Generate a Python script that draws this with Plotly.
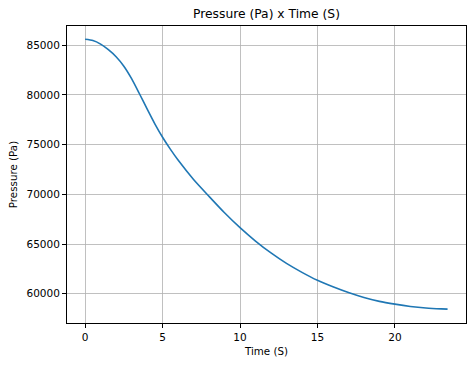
import plotly.graph_objects as go

time_s = [0, 0.5, 1, 1.5, 2, 2.5, 3, 3.5, 4, 4.5, 5, 5.5, 6, 7, 8, 9, 10, 11, 12, 13,
          14, 15, 16, 17, 18, 19, 20, 21, 22, 23, 23.4]
pressure_pa = [85600, 85480, 85120, 84560, 83850, 82900, 81650, 80150, 78600, 77100,
               75750, 74550, 73450, 71500, 69800, 68150, 66650, 65300, 64100, 63050,
               62150, 61350, 60700, 60120, 59620, 59230, 58950, 58720, 58560, 58470, 58450]
x_ticks = [0, 5, 10, 15, 20]
y_ticks = [60000, 65000, 70000, 75000, 80000, 85000]

font = "DejaVu Sans, Verdana, sans-serif"

fig = go.Figure(go.Scatter(
    x=time_s, y=pressure_pa, mode="lines",
    line=dict(color="#1f77b4", width=1.6, shape="spline", smoothing=0.6),
    hoverinfo="skip",
))

axis_common = dict(
    showgrid=True, gridcolor="#b0b0b0", gridwidth=0.8,
    showline=True, linecolor="black", linewidth=1, mirror=True,
    ticks="outside", ticklen=4, tickwidth=1, tickcolor="black",
    zeroline=False, automargin=False,
    tickfont=dict(family=font, size=10.5, color="black"),
)

fig.update_layout(
    width=474, height=366,
    margin=dict(l=67, r=8, t=26, b=43),
    paper_bgcolor="white", plot_bgcolor="white",
    showlegend=False,
    title=dict(text="Pressure (Pa) x Time (S)", x=0.5, xanchor="center",
               xref="paper", y=1 - 14 / 366, yanchor="middle", yref="container",
               font=dict(family=font, size=12.3, color="black")),
    xaxis=dict(range=[-1.17, 24.59], tickvals=x_ticks, ticktext=[str(v) for v in x_ticks],
               title=dict(text="Time (S)", font=dict(family=font, size=10.3, color="black"), standoff=6),
               **axis_common),
    yaxis=dict(range=[57052, 86942], tickvals=y_ticks, ticktext=[str(v) for v in y_ticks],
               title=dict(text="Pressure (Pa)", font=dict(family=font, size=10.3, color="black"), standoff=6),
               **axis_common),
)

fig.write_html(
    "out.html",
    config={"displayModeBar": False, "staticPlot": True},
    post_script="document.body.style.margin='0';document.body.style.overflow='hidden';",
)
